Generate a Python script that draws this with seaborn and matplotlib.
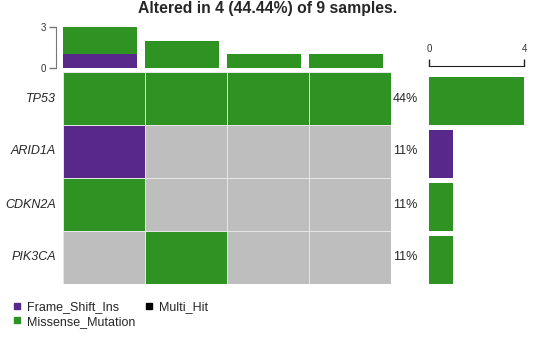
import numpy as np
import pandas as pd
import matplotlib
matplotlib.use('Agg')
import matplotlib.pyplot as plt
from matplotlib.colors import ListedColormap
from matplotlib.lines import Line2D
import seaborn as sns

# Oncoplot data
genes = ['TP53', 'ARID1A', 'CDKN2A', 'PIK3CA']
samples = ['S1', 'S2', 'S3', 'S4']
# 0 = none, 1 = Missense_Mutation, 2 = Frame_Shift_Ins
tp53 = [1, 1, 1, 1]
arid1a = [2, 0, 0, 0]
cdkn2a = [1, 0, 0, 0]
pik3ca = [0, 1, 0, 0]
pct_labels = ['44%', '11%', '11%', '11%']
title = 'Altered in 4 (44.44%) of 9 samples.'

grey = '#BEBEBE'
green = '#2E9322'
purple = '#58298A'

mat = pd.DataFrame([tp53, arid1a, cdkn2a, pik3ca], index=genes, columns=samples)

sns.set_style('white')
plt.rcParams['font.family'] = ['Liberation Sans', 'DejaVu Sans']

fig = plt.figure(figsize=(5.37, 3.64), dpi=100)
W, H = 537, 364

def box(x0, y0, x1, y1):
    return [x0 / W, 1 - y1 / H, (x1 - x0) / W, (y1 - y0) / H]

# main grid
ax = fig.add_axes(box(63, 72, 391, 284))
sns.heatmap(mat, ax=ax, cmap=ListedColormap([grey, green, purple]), vmin=-0.5, vmax=2.5,
            cbar=False, linewidths=0.5, linecolor='#E6E6E6')
ax.set_xticks([])
ax.set_xlabel('')
ax.set_ylabel('')
ax.set_yticklabels(genes, rotation=0, fontstyle='italic', fontsize=9)
ax.tick_params(axis='y', length=0, pad=5)
for i, p in enumerate(pct_labels):
    ax.text(1.005, 1 - (i + 0.5) / len(genes), p, transform=ax.transAxes,
            ha='left', va='center', fontsize=9)

# top bar: mutations per sample
axt = fig.add_axes(box(63, 27, 391, 68))
mis = (mat == 1).sum(axis=0).values
fsi = (mat == 2).sum(axis=0).values
x = np.arange(len(samples))
axt.bar(x, fsi, width=0.9, align='edge', color=purple, linewidth=0)
axt.bar(x, mis, width=0.9, align='edge', bottom=fsi, color=green, linewidth=0)
axt.set_xlim(0, len(samples))
axt.set_ylim(0, 3)
axt.set_yticks([0, 3])
axt.set_xticks([])
for s in ['top', 'right', 'bottom']:
    axt.spines[s].set_visible(False)
axt.spines['left'].set_position(('outward', 5))
axt.spines['left'].set_color('#777777')
axt.tick_params(axis='y', left=True, length=5, width=1, color='#777777', labelsize=7,
                labelcolor='#333333', pad=2)

# right bar: mutations per gene
axr = fig.add_axes(box(429, 72, 524, 284))
gmis = (mat == 1).sum(axis=1).values
gfsi = (mat == 2).sum(axis=1).values
y = np.arange(len(genes)) + 0.1
axr.barh(y, gfsi, height=0.9, align='edge', color=purple, linewidth=0)
axr.barh(y, gmis, height=0.9, align='edge', left=gfsi, color=green, linewidth=0)
axr.set_xlim(0, 4)
axr.set_ylim(len(genes), 0)
axr.set_yticks([])
axr.set_xticks([0, 4])
axr.xaxis.tick_top()
for s in ['bottom', 'right', 'left']:
    axr.spines[s].set_visible(False)
axr.spines['top'].set_position(('outward', 4))
axr.spines['top'].set_color('#222222')
axr.tick_params(axis='x', top=True, length=5, width=1, color='#222222', labelsize=7,
                labelcolor='#333333', pad=4)

fig.text(268 / W, 1 - 8 / H, title, ha='center', va='center', fontsize=11.3, fontweight='bold')

handles = [Line2D([], [], marker='s', ls='', color=purple, markersize=5, label='Frame_Shift_Ins'),
           Line2D([], [], marker='s', ls='', color=green, markersize=5, label='Missense_Mutation'),
           Line2D([], [], marker='s', ls='', color='black', markersize=5, label='Multi_Hit')]
fig.legend(handles=handles, ncol=2, loc='upper left', bbox_to_anchor=(-1 / W, 1 - 290 / H),
           frameon=False, fontsize=9, handletextpad=0.3, labelspacing=0.2,
           columnspacing=0.6, handlelength=1.0)

fig.savefig('out.png', dpi=100)
